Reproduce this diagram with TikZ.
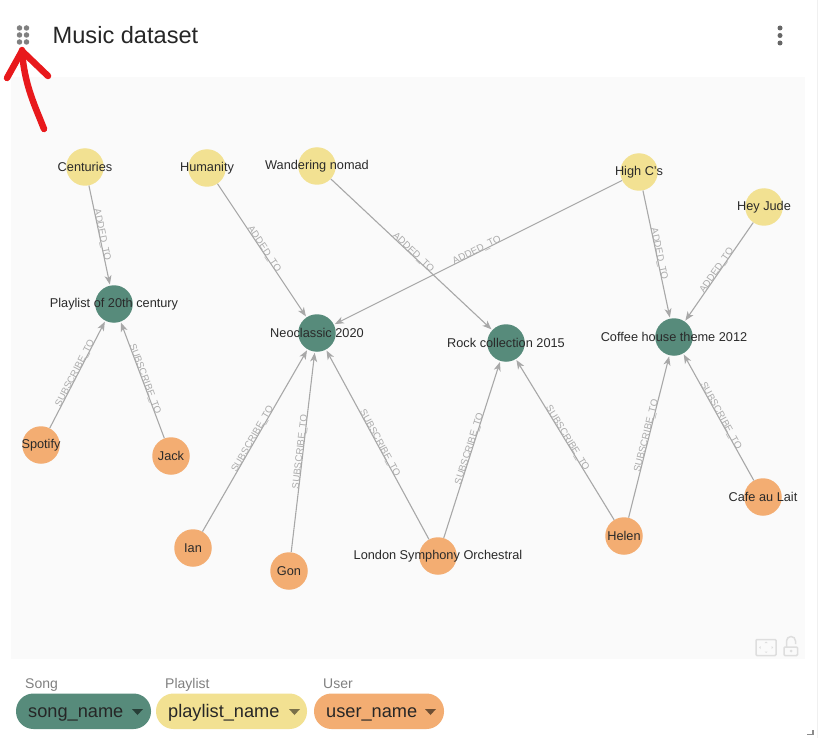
\documentclass[tikz,border=0pt]{standalone}
\usepackage{fontspec}
\setmainfont{Liberation Sans}
\usetikzlibrary{arrows.meta}
\definecolor{songc}{HTML}{578B7B}
\definecolor{listc}{HTML}{F2E192}
\definecolor{userc}{HTML}{F3AD72}
\definecolor{edgec}{HTML}{A8A8A8}
\definecolor{elab}{HTML}{ABABAB}
\definecolor{txt}{HTML}{2A2A2A}
\definecolor{arrowred}{HTML}{E8191C}
\definecolor{iconc}{HTML}{DEDEDE}
\tikzset{
  vert/.style={circle,minimum size=37.5pt,inner sep=0pt,draw=none},
  song/.style={vert,fill=songc},
  list/.style={vert,fill=listc},
  usr/.style={vert,fill=userc},
  vlab/.style={font=\fontsize{12.75}{15}\selectfont,text=txt,inner sep=0pt},
  edge/.style={draw=edgec,line width=1.1pt,shorten >=1pt,-{Stealth[length=9pt,width=7pt,inset=2.5pt]}},
  elabel/.style={font=\fontsize{9.7}{11}\selectfont,text=elab,sloped,anchor=base,inner sep=0pt,pos=#1},
  elabel/.default=0.5,
  pill/.style={rounded corners=17.5pt,inner sep=0pt},
  pilltext/.style={font=\fontsize{18.2}{22}\selectfont,text=black!85,anchor=base west,inner sep=0pt},
  legtext/.style={font=\fontsize{14}{16}\selectfont,text=black!50,anchor=base west,inner sep=0pt},
  griddot/.style={circle,fill=black!50,minimum size=5.5pt,inner sep=0pt},
  menudot/.style={circle,fill=black!60,minimum size=5pt,inner sep=0pt},
}
\newcommand{\vtx}[5]{\node[#1,label={[vlab]center:#5}] (#2) at (#3,#4) {};}
\begin{document}
\begin{tikzpicture}[x=1pt,y=-1pt]
\useasboundingbox (0,0) rectangle (819,738);
\fill[white] (0,0) rectangle (819,738);
\fill[black!6] (816.5,0) rectangle (818,738);
\fill[black!2] (11,77) rectangle (805,659);

% header
\foreach \yy in {28,35,42}{\foreach \xx in {19.5,26.5}{\node[griddot] at (\xx,\yy) {};}}
\foreach \yy in {28,35.5,43}{\node[menudot] at (780,\yy) {};}
\node[font=\fontsize{23.6}{26}\selectfont,text=black!85,anchor=base west,inner sep=0pt] (title) at (52.5,43.5) {Music dataset};

% vertices
\vtx{list}{cent}{85}{167}{Centuries}
\vtx{list}{hum}{207}{168}{Humanity}
\vtx{list}{wan}{317}{166}{Wandering nomad}
\vtx{list}{high}{639}{172}{High C's}
\vtx{list}{jude}{764}{207}{Hey Jude}
\vtx{song}{p20}{114}{304}{Playlist of 20th century}
\vtx{song}{neo}{317}{333}{Neoclassic 2020}
\vtx{song}{rock}{506}{343}{Rock collection 2015}
\vtx{song}{cof}{674}{337}{Coffee house theme 2012}
\vtx{usr}{spot}{41}{445}{Spotify}
\vtx{usr}{jack}{171}{456}{Jack}
\vtx{usr}{ian}{193}{548}{Ian}
\vtx{usr}{gon}{289}{571}{Gon}
\vtx{usr}{lso}{438}{556}{London Symphony Orchestral}
\vtx{usr}{hel}{624}{536}{Helen}
\vtx{usr}{cafe}{763}{497}{Cafe au Lait}

% edges
\draw[edge] (cent) -- node[elabel]{ADDED\_TO} (p20);
\draw[edge] (hum) -- node[elabel]{ADDED\_TO} (neo);
\draw[edge] (wan) -- node[elabel]{ADDED\_TO} (rock);
\draw[edge] (high) -- node[elabel]{ADDED\_TO} (neo);
\draw[edge] (high) -- node[elabel]{ADDED\_TO} (cof);
\draw[edge] (jude) -- node[elabel]{ADDED\_TO} (cof);
\draw[edge] (spot) -- node[elabel]{SUBSCRIBE\_TO} (p20);
\draw[edge] (jack) -- node[elabel]{SUBSCRIBE\_TO} (p20);
\draw[edge] (ian) -- node[elabel]{SUBSCRIBE\_TO} (neo);
\draw[edge] (gon) -- node[elabel]{SUBSCRIBE\_TO} (neo);
\draw[edge] (lso) -- node[elabel]{SUBSCRIBE\_TO} (neo);
\draw[edge] (lso) -- node[elabel]{SUBSCRIBE\_TO} (rock);
\draw[edge] (hel) -- node[elabel]{SUBSCRIBE\_TO} (rock);
\draw[edge] (hel) -- node[elabel]{SUBSCRIBE\_TO} (cof);
\draw[edge] (cafe) -- node[elabel]{SUBSCRIBE\_TO} (cof);

% red arrow
\draw[arrowred,line width=6.5pt,line cap=round,line join=round] (44,129) .. controls (36,108) and (24,85) .. (22,50);
\draw[arrowred,line width=6.5pt,line cap=round,line join=round] (7,78) -- (22,51) -- (48,76);

% canvas icons
\draw[iconc,line width=1.5pt,rounded corners=1pt] (756,639.5) rectangle (776,655.5);
\fill[iconc] (766,641.5) -- (764.5,643) -- (767.5,643) -- cycle;
\fill[iconc] (766,653) -- (764.5,651.5) -- (767.5,651.5) -- cycle;
\fill[iconc] (759,647.5) -- (760.5,646) -- (760.5,649) -- cycle;
\fill[iconc] (773,647.5) -- (771.5,646) -- (771.5,649) -- cycle;
\draw[iconc,line width=1.5pt,rounded corners=1pt] (784,647) rectangle (797.5,655.5);
\draw[iconc,line width=1.5pt] (786.5,647) -- (786.5,641) arc[start angle=-180,end angle=0,radius=4.5] -- (795.5,644);
\fill[iconc] (791,651) circle[radius=1.5];

% legend
\node[legtext] (lsong) at (25,688) {Song};
\node[legtext] (llist) at (165,688) {Playlist};
\node[legtext] (luser) at (323,688) {User};
\fill[songc,pill] (16,693.5) rectangle (151,729);
\fill[listc,pill] (156,693.5) rectangle (307,729);
\fill[userc,pill] (314,693.5) rectangle (444,729);
\node[pilltext] (psong) at (28,717) {song\_name};
\node[pilltext] (plist) at (168,717) {playlist\_name};
\node[pilltext] (puser) at (326,717) {user\_name};
\fill[black!55!songc] (132,709) -- (143,709) -- (137.5,715) -- cycle;
\fill[black!50!listc] (289,709) -- (300,709) -- (294.5,715) -- cycle;
\fill[black!55!userc] (425,709) -- (436,709) -- (430.5,715) -- cycle;

% resize handle
\fill[black!45] (812,730) rectangle (813.5,735);
\fill[black!45] (807,733.5) rectangle (813.5,735);
\end{tikzpicture}
\end{document}
